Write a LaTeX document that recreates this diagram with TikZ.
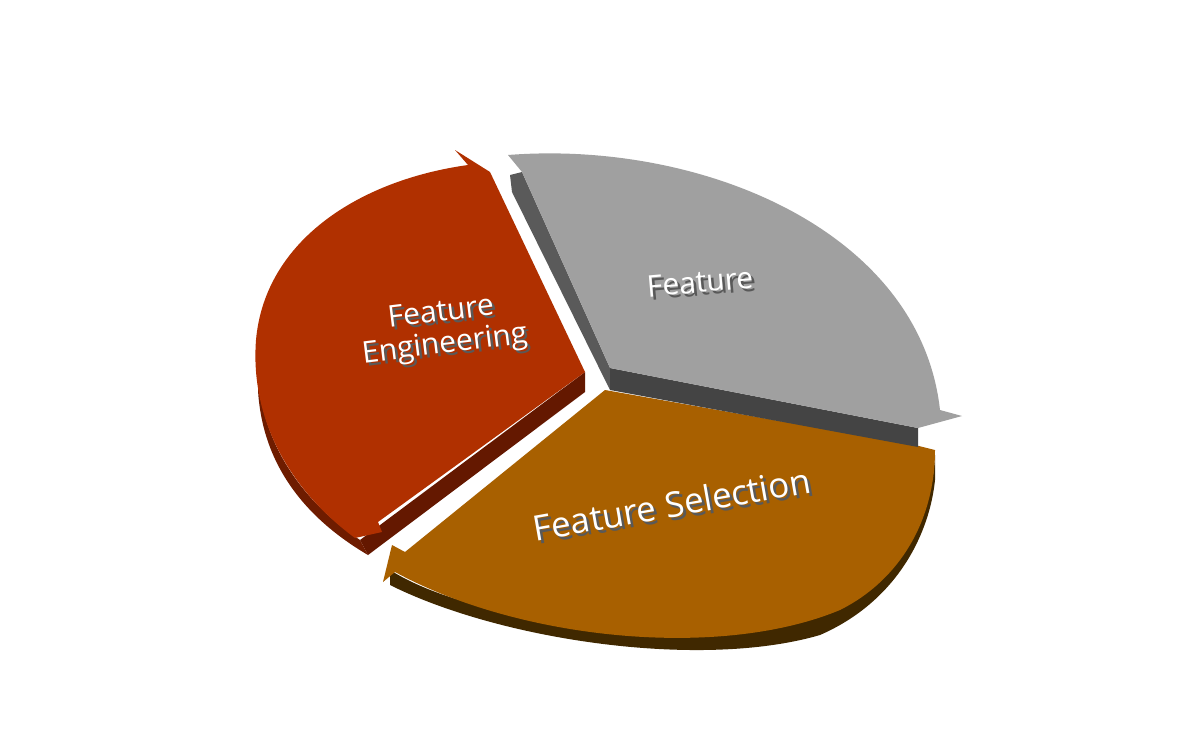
\documentclass[tikz,border=0pt]{standalone}
\usepackage{fontspec}
\setmainfont{Open Sans}
\begin{document}
\begin{tikzpicture}[x=1pt,y=-1pt,
  lbl/.style={font=\fontsize{30}{32}\selectfont,text=white,align=center},
  shd/.style={font=\fontsize{30}{32}\selectfont,text=gray!70!black,align=center}]
\useasboundingbox[fill=white] (0,0) rectangle (1200,752);
% orange extrusion
\fill[fill={rgb,255:red,64;green,40;blue,0}] (390,570) .. controls (500,640) and (800,650) .. (880,580) .. controls (915,545) and (933,500) .. (935,455) -- (935,480) .. controls (930,530) and (900,600) .. (820,635) .. controls (700,670) and (500,640) .. (390,585) -- cycle;
% orange top
\fill[fill={rgb,255:red,168;green,96;blue,0}] (605,390) -- (915,445) -- (935,450) .. controls (935,520) and (900,580) .. (840,610) .. controls (720,660) and (520,640) .. (395,572) -- (383,582) -- (392,545) -- (405,552) -- cycle;
% red extrusion
\fill[fill={rgb,255:red,100;green,24;blue,0}] (585,372) -- (585,392) -- (368,555) -- (360,540) -- cycle;
\fill[fill={rgb,255:red,110;green,28;blue,0}] (258,370) .. controls (260,440) and (300,500) .. (360,540) -- (368,555) .. controls (300,515) and (262,460) .. (258,390) -- cycle;
% red top
\fill[fill={rgb,255:red,176;green,48;blue,0}] (490,172) -- (585,372) -- (378,522) -- (382,532) -- (355,538) .. controls (290,490) and (250,420) .. (256,340) .. controls (265,240) and (360,180) .. (468,165) -- (455,150) -- cycle;
% gray side strips
\fill[fill={rgb,255:red,90;green,90;blue,90}] (510,175) -- (522,172) -- (610,368) -- (610,390) -- (512,192) -- cycle;
\fill[fill={rgb,255:red,68;green,68;blue,68}] (610,368) -- (918,428) -- (918,447) -- (610,390) -- cycle;
% gray top
\fill[fill={rgb,255:red,160;green,160;blue,160}] (508,155) .. controls (700,140) and (920,230) .. (940,410) -- (962,416) -- (918,428) -- (610,368) -- (522,172) -- cycle;
% labels
\node[shd,rotate=7] (fes) at (446,333) {Feature\\Engineering};
\node[lbl,rotate=7] (fe) at (443,330) {Feature\\Engineering};
\node[shd,rotate=5] (fs0) at (703,285) {Feature};
\node[lbl,rotate=5] (f) at (700,282) {Feature};
\node[shd,rotate=10,font=\fontsize{35}{37}\selectfont] (fss) at (675,507) {Feature Selection};
\node[lbl,rotate=10,font=\fontsize{35}{37}\selectfont] (fsl) at (672,504) {Feature Selection};
\end{tikzpicture}
\end{document}
